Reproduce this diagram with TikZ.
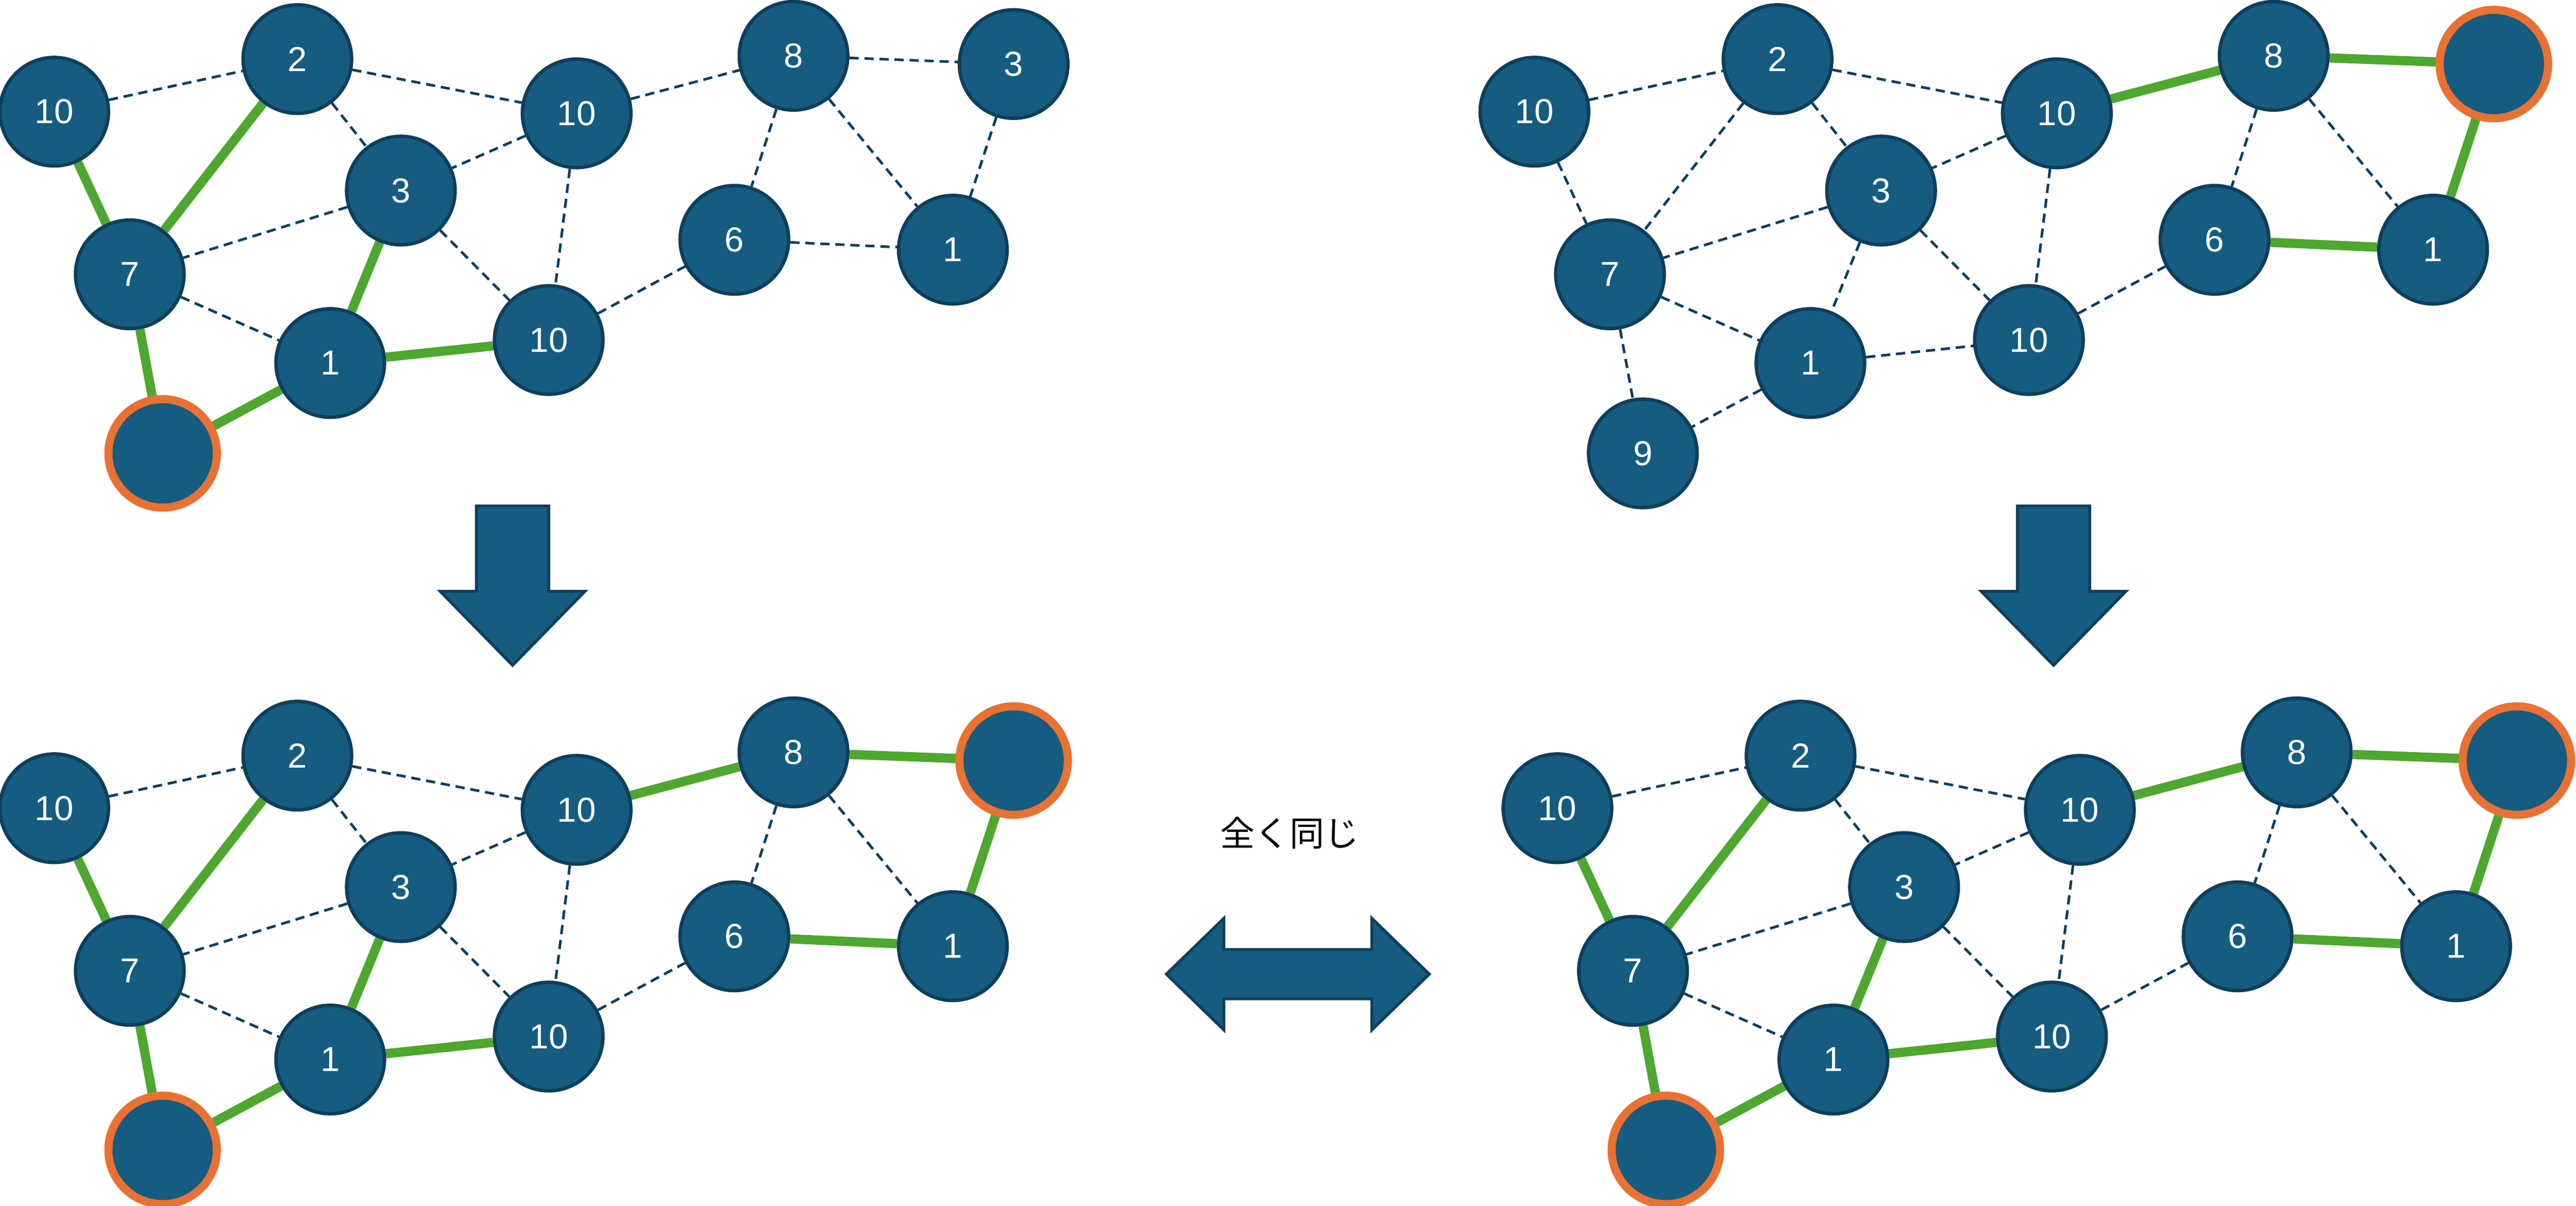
\documentclass[tikz,border=0pt]{standalone}
\usepackage{fontspec}
\setmainfont{Liberation Sans}
\newfontfamily\cjk{Noto Sans CJK JP}
\usetikzlibrary{arrows.meta,positioning,calc,backgrounds}
\definecolor{NodeBlue}{HTML}{155C80}
\definecolor{EdgeBlue}{HTML}{0E3F5C}
\definecolor{PathGreen}{HTML}{4EA72E}
\definecolor{MarkOrange}{HTML}{E97132}
\tikzset{
  vert/.style={circle,draw=EdgeBlue,line width=0.6pt,fill=NodeBlue,minimum size=0.66cm,inner sep=0pt,text=white,font=\fontsize{6}{7}\selectfont},
  endpt/.style={draw=MarkOrange,line width=1.4pt},
  link/.style={EdgeBlue,line width=0.45pt,dash pattern=on 1.6pt off 1pt},
  path/.style={PathGreen,line width=1.6pt},
  bigarrow/.style={fill=NodeBlue,draw=EdgeBlue,line width=0.5pt}
}
% #1 prefix, #2 dx, #3 dy, #4 dashed edges, #5 green edges, #6 marked nodes
\newcommand\drawnet[6]{
  \begin{scope}[shift={(#2,#3)}]
    \foreach \n/\x/\y/\t in {a/33/68/10,b/181/36/2,c/351/69/10,d/483/34/8,e/617/39/3,f/244/116/3,
                          g/79/167/7,h/447/146/6,i/580/152/1,j/201/221/1,k/334/207/10,l/99/276/9}
      \node[vert] (#1\n) at (\x,\y) {\t};
    \foreach \n in {#6} \node[vert,endpt] at (#1\n) {};
    \begin{scope}[on background layer]
      \foreach \u/\v in {#4} \draw[link] (#1\u) -- (#1\v);
      \foreach \u/\v in {#5} \draw[path] (#1\u) -- (#1\v);
    \end{scope}
  \end{scope}
}
\begin{document}
\begin{tikzpicture}[x=0.01cm,y=-0.01cm]
  \useasboundingbox (0,0) rectangle (1568,734);
  % top left
  \drawnet{p}{0}{0}{a/b,b/c,b/f,c/f,c/d,c/k,d/e,d/h,d/i,e/i,h/i,f/g,f/k,g/j,k/h}
    {a/g,b/g,g/l,j/l,f/j,j/k}{l}
  % top right
  \drawnet{q}{901}{0}{a/b,a/g,b/c,b/f,b/g,c/f,c/k,d/h,d/i,f/g,f/j,f/k,g/j,g/l,j/l,j/k,k/h}
    {c/d,d/e,e/i,h/i}{e}
  % bottom left
  \drawnet{r}{0}{424}{a/b,b/c,b/f,c/f,c/k,d/h,d/i,f/g,f/k,g/j,k/h}
    {a/g,b/g,g/l,j/l,f/j,j/k,c/d,d/e,e/i,h/i}{l,e}
  % bottom right
  \drawnet{s}{915}{424}{a/b,b/c,b/f,c/f,c/k,d/h,d/i,f/g,f/k,g/j,k/h}
    {a/g,b/g,g/l,j/l,f/j,j/k,c/d,d/e,e/i,h/i}{l,e}
  % arrows
  \foreach \cx in {312,1250}
    \draw[bigarrow] (\cx-22,308) -- (\cx+22,308) -- (\cx+22,360) -- (\cx+44,360)
      -- (\cx,405) -- (\cx-44,360) -- (\cx-22,360) -- cycle;
  \draw[bigarrow] (710,593) -- (745,559) -- (745,578) -- (835,578) -- (835,559) -- (870,593)
    -- (835,627) -- (835,608) -- (745,608) -- (745,627) -- cycle;
  \node[font=\cjk\fontsize{6}{7}\selectfont] (same) at (785,507) {全く同じ};
\end{tikzpicture}
\end{document}
